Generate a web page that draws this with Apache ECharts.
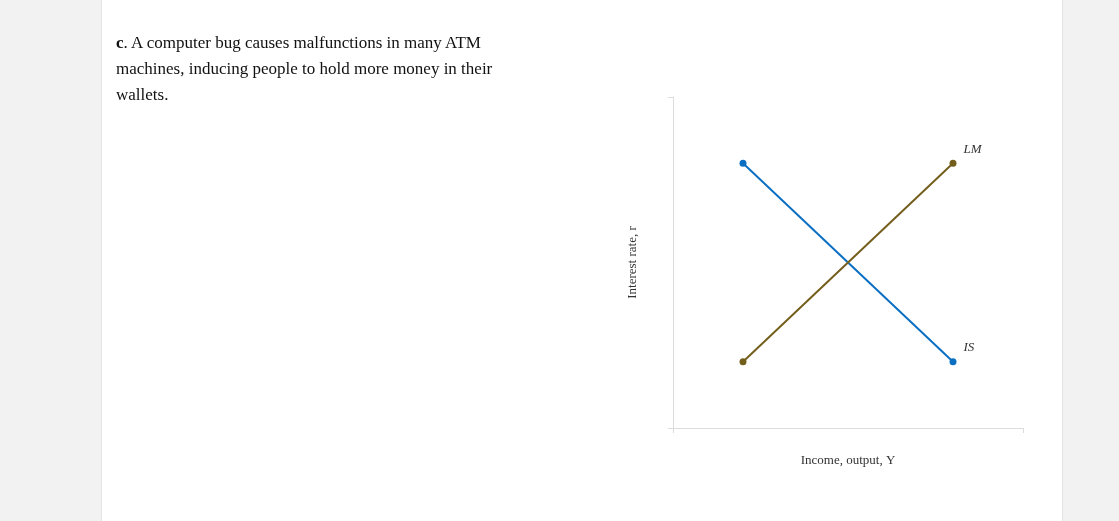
<!DOCTYPE html>
<html><head><meta charset="utf-8">
<script src="https://cdn.jsdelivr.net/npm/echarts@6/dist/echarts.min.js"></script>
<style>
html,body{margin:0;padding:0;width:1119px;height:521px;background:#f2f2f2;overflow:hidden}
#panel{position:absolute;left:101px;top:0;width:960px;height:521px;background:#fff;border-left:1px solid #e4e4e4;border-right:1px solid #e4e4e4}
#txt{position:absolute;left:116px;top:30px;width:420px;font-family:"Liberation Serif",serif;font-size:17px;line-height:26px;color:#111}
#chart{position:absolute;left:0;top:0;width:1119px;height:521px}
</style></head><body>
<div id="panel"></div>
<div id="chart"></div>
<div id="txt"><b>c</b>. A computer bug causes malfunctions in many ATM machines, inducing people to hold more money in their wallets.</div>
<script>
const isX=[2,8], isY=[8,2];
const lmX=[2,8], lmY=[2,8];
const c=echarts.init(document.getElementById('chart'));
function lbl(name){return {show:true,formatter:p=>p.dataIndex===1?name:'',position:'right',offset:[2,-14],fontFamily:'Liberation Serif',fontStyle:'italic',fontSize:13,color:'#333'};}
const ax={min:0,max:10,interval:10,axisLabel:{show:false},splitLine:{show:false},
 axisLine:{show:true,lineStyle:{color:'#dcdcdc'}},axisTick:{show:true,length:5,lineStyle:{color:'#dcdcdc'}},
 nameTextStyle:{fontFamily:'Liberation Serif',fontSize:13,color:'#333'},nameLocation:'middle'};
c.setOption({
 animation:false,
 grid:{left:673,top:97,width:350,height:331},
 xAxis:Object.assign({},ax,{type:'value',name:'Income, output, Y',nameGap:26}),
 yAxis:Object.assign({},ax,{type:'value',name:'Interest rate, r',nameGap:34}),
 series:[
  {type:'line',data:isX.map((x,i)=>[x,isY[i]]),color:'#0a6fc2',lineStyle:{width:2},symbol:'circle',symbolSize:7,label:lbl('IS')},
  {type:'line',data:lmX.map((x,i)=>[x,lmY[i]]),color:'#735e1c',lineStyle:{width:2},symbol:'circle',symbolSize:7,label:lbl('LM')}
 ]
});
</script></body></html>
